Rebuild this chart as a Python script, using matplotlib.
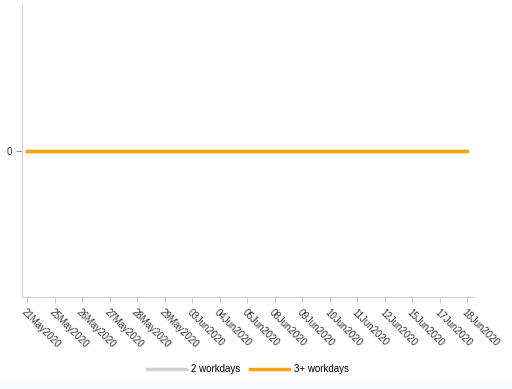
import numpy as np
import matplotlib.pyplot as plt
from matplotlib.patches import Rectangle

dates = ['21May2020', '25May2020', '26May2020', '27May2020', '28May2020',
         '29May2020', '03Jun2020', '04Jun2020', '05Jun2020', '08Jun2020',
         '09Jun2020', '10Jun2020', '11Jun2020', '12Jun2020', '15Jun2020',
         '17Jun2020', '18Jun2020']
two_workdays = [0, 0, 0, 0, 0, 0, 0, 0, 0, 0, 0, 0, 0, 0, 0, 0, 0]
three_plus_workdays = [0, 0, 0, 0, 0, 0, 0, 0, 0, 0, 0, 0, 0, 0, 0, 0, 0]

plt.rcParams['font.family'] = ['Liberation Sans', 'DejaVu Sans']

fig = plt.figure(figsize=(5.12, 3.89), dpi=100)
fig.patches.append(Rectangle((0, 0), 1, 9 / 389, transform=fig.transFigure,
                             color='#f8f9fd', zorder=0))
ax = fig.add_axes([22 / 512, 1 - 297 / 389, 452 / 512, 292 / 389])

x = np.arange(len(dates))
ax.plot(x, two_workdays, color='#d0d0d0', lw=2.5, label='2 workdays')
ax.plot(x, three_plus_workdays, color='#ffa500', lw=2.5, label='3+ workdays')

n = len(dates)
step = 440 / (n - 1)
ax.set_xlim(-5 / step, n - 1 + 7 / step)
ax.set_ylim(-1, 1)
ax.set_yticks([0])
ax.set_xticks(x)
ax.set_xticklabels(dates, rotation=-45, ha='left', va='top',
                   rotation_mode='anchor', fontsize=7, color='#333333')
ax.tick_params(axis='y', labelsize=7, labelcolor='#333333', length=4,
               color='#999999')
ax.tick_params(axis='x', length=4, color='#cccccc')

for s in ['top', 'right']:
    ax.spines[s].set_visible(False)
for s in ['left', 'bottom']:
    ax.spines[s].set_color('#d0d0d0')

ax.legend(loc='upper center', bbox_to_anchor=(0.5, -0.2), ncol=2,
          frameon=False, fontsize=7, handlelength=4, columnspacing=1.0,
          handletextpad=0.5)

fig.savefig('out.png', dpi=100)
